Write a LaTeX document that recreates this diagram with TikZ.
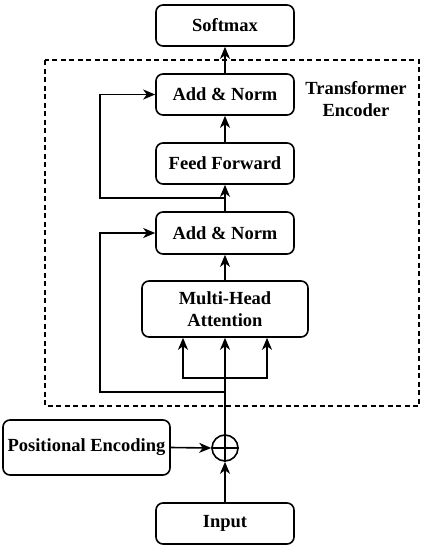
\documentclass[tikz,border=0pt]{standalone}
\usepackage{fontspec}
\setmainfont{Liberation Serif}
\usetikzlibrary{arrows.meta,calc}
\begin{document}
\begin{tikzpicture}[x=1pt,y=-1pt,
  blk/.style={draw,line width=1.6pt,rounded corners=7pt,align=center,font=\fontsize{18.5}{22}\selectfont\bfseries,inner sep=0pt},
  arr/.style={line width=1.6pt,-{Stealth[length=12pt,width=10pt,inset=3.5pt]}},
  ln/.style={line width=1.6pt}]
\useasboundingbox (0,0) rectangle (425,550);
\draw[line width=1.4pt,dash pattern=on 5pt off 3.5pt] (45,60) rectangle (419,406);
\node[blk,minimum width=138pt,minimum height=41pt] (sm) at (225,25.5) {Softmax};
\node[blk,minimum width=138pt,minimum height=41pt] (an2) at (225,94.5) {Add \& Norm};
\node[blk,minimum width=138pt,minimum height=41pt] (ff) at (225,163.5) {Feed Forward};
\node[blk,minimum width=138pt,minimum height=42pt] (an1) at (225,233) {Add \& Norm};
\node[blk,minimum width=166pt,minimum height=56pt] (mha) at (225,309) {Multi-Head\\Attention};
\node[align=center,font=\fontsize{18.5}{22}\selectfont\bfseries] (lbl) at (356,99) {Transformer\\Encoder};
\node[draw,circle,line width=1.6pt,minimum size=26pt,inner sep=0pt] (plus) at (225,448) {};
\draw[ln] (plus.north) -- (plus.south) (plus.west) -- (plus.east);
\node[blk,minimum width=167pt,minimum height=55pt] (pe) at (86.5,447.5) {Positional Encoding};
\node[blk,minimum width=138pt,minimum height=41pt] (in) at (225,523.5) {Input};
% connectors
\draw[arr] (in.north) -- (plus.south);
\draw[arr] (pe.east) -- (plus.west);
\coordinate (br) at (225,378);
\coordinate (rs1) at (225,392);
\draw[arr] (plus.north) -- (mha.south);
\draw[arr] (br) -| ($(mha.south)+(-42,0)$);
\draw[arr] (br) -| ($(mha.south)+(42,0)$);
\draw[arr] (rs1) -- (100,392) |- (an1.west);
\draw[arr] (mha.north) -- (an1.south);
\draw[arr] (an1.north) -- (ff.south);
\coordinate (rs2) at (225,198);
\draw[arr] (rs2) -- (100,198) |- (an2.west);
\draw[arr] (ff.north) -- (an2.south);
\draw[arr] (an2.north) -- (sm.south);
\end{tikzpicture}
\end{document}
